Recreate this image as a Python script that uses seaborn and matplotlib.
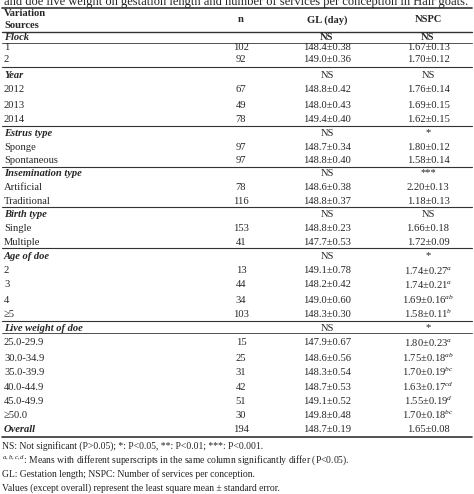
import matplotlib
matplotlib.use("Agg")
import matplotlib.pyplot as plt
import seaborn as sns

sns.set_theme(style="white")
plt.rcParams['font.family'] = ['Liberation Serif', 'DejaVu Serif']
plt.rcParams['mathtext.fontset'] = 'custom'
plt.rcParams['mathtext.rm'] = 'Liberation Serif'
plt.rcParams['mathtext.it'] = 'Liberation Serif:italic'

caption = "and doe live weight on gestation length and number of services per conception in Hair goats."
headers = ["n", "GL (day)", "NSPC"]
sections = ["Flock", "Year", "Estrus type", "Insemination type", "Birth type", "Age of doe", "Live weight of doe"]
sig_gl = ["NS", "NS", "NS", "NS", "NS", "NS", "NS"]
sig_nspc = ["NS", "NS", "*", "***", "NS", "*", "*"]
labels = [["1", "2"], ["2012", "2013", "2014"], ["Sponge", "Spontaneous"], ["Artificial", "Traditional"],
          ["Single", "Multiple"], ["2", "3", "4", "≥5"],
          ["25.0-29.9", "30.0-34.9", "35.0-39.9", "40.0-44.9", "45.0-49.9", "≥50.0"]]
n_vals = [[102, 92], [67, 49, 78], [97, 97], [78, 116], [153, 41], [13, 44, 34, 103], [15, 25, 31, 42, 51, 30]]
gl_vals = [["148.4±0.38", "149.0±0.36"], ["148.8±0.42", "148.0±0.43", "149.4±0.40"],
           ["148.7±0.34", "148.8±0.40"], ["148.6±0.38", "148.8±0.37"], ["148.8±0.23", "147.7±0.53"],
           ["149.1±0.78", "148.2±0.42", "149.0±0.60", "148.3±0.30"],
           ["147.9±0.67", "148.6±0.56", "148.3±0.54", "148.7±0.53", "149.1±0.52", "149.8±0.48"]]
nspc_vals = [["1.67±0.13", "1.70±0.12"], ["1.76±0.14", "1.69±0.15", "1.62±0.15"],
             ["1.80±0.12", "1.58±0.14"], ["2.20±0.13", "1.18±0.13"], ["1.66±0.18", "1.72±0.09"],
             ["1.74±0.27", "1.74±0.21", "1.69±0.16", "1.58±0.11"],
             ["1.80±0.23", "1.75±0.18", "1.70±0.19", "1.63±0.17", "1.55±0.19", "1.70±0.18"]]
nspc_sup = [["", ""], ["", "", ""], ["", ""], ["", ""], ["", ""], ["a", "a", "ab", "b"],
            ["a", "ab", "bc", "cd", "d", "bc"]]
overall = ["Overall", 194, "148.7±0.19", "1.65±0.08"]
footnotes = ["NS: Not significant (P>0.05); *: P<0.05, **: P<0.01; ***: P<0.001.",
             "$^{a, b, c, d}$: Means with different superscripts in the same column significantly differ (P<0.05).",
             "GL: Gestation length; NSPC: Number of services per conception.",
             "Values (except overall) represent the least square mean ± standard error."]

W, H = 474, 494
fig = plt.figure(figsize=(W/100, H/100), dpi=100)
ax = fig.add_axes([0, 0, 1, 1])
ax.set_xlim(0, W); ax.set_ylim(H, 0); ax.axis('off')
fs = 7.6
xl, xn, xg, xs = 4, 241, 327, 428

def hline(y, lw=0.8):
    ax.plot([2, 472], [y, y], color='#333333', lw=lw)

ax.text(4, 2, caption, fontsize=9, va='center', ha='left', color='#222')
hline(8, 1.2)
ax.text(xl, 14, "Variation", fontsize=fs, weight='bold', va='center')
ax.text(xl, 26, "Sources", fontsize=fs, weight='bold', va='center')
for x, h in zip([xn, xg, xs], headers):
    ax.text(x, 20, h, fontsize=fs, weight='bold', va='center', ha='center')
hline(32, 1.0)

sec_y = [38, 75, 133, 173, 214, 256, 328]
row_y = [[48, 60], [89, 105, 119], [147, 160], [187, 201], [228, 242], [270, 284, 300, 314],
         [342, 358, 372, 387, 401, 415]]
line_y = [67, 126, 167, 207, 248, 321]
for i, s in enumerate(sections):
    ax.text(xl, sec_y[i], s, fontsize=fs, weight='bold', style='italic', va='center')
    bold = 'bold' if i == 0 else 'normal'
    ax.text(xg, sec_y[i], sig_gl[i], fontsize=fs, ha='center', va='center', weight=bold)
    ax.text(xs, sec_y[i], sig_nspc[i], fontsize=fs, ha='center', va='center', weight=bold)
    if i == 0:
        hline(sec_y[i] + 5, 0.6)
    for j, lab in enumerate(labels[i]):
        y = row_y[i][j]
        ax.text(xl, y, lab, fontsize=fs, va='center')
        ax.text(xn, y, str(n_vals[i][j]), fontsize=fs, va='center', ha='center')
        ax.text(xg, y, gl_vals[i][j], fontsize=fs, va='center', ha='center')
        sup = nspc_sup[i][j]
        t = nspc_vals[i][j] + (f"$^{{{sup}}}$" if sup else "")
        ax.text(xs, y, t, fontsize=fs, va='center', ha='center')
    if i < len(line_y):
        hline(line_y[i], 0.8)
    else:
        hline(sec_y[i] + 5, 0.6)

ax.text(xl, 429, overall[0], fontsize=fs, weight='bold', style='italic', va='center')
ax.text(xn, 429, str(overall[1]), fontsize=fs, va='center', ha='center')
ax.text(xg, 429, overall[2], fontsize=fs, va='center', ha='center')
ax.text(xs, 429, overall[3], fontsize=fs, va='center', ha='center')
hline(437, 1.2)
for k, f in enumerate(footnotes):
    ax.text(xl - 2, 446 + 14 * k, f, fontsize=6.9, va='center', color='#222')

fig.savefig("out.png", dpi=100)
